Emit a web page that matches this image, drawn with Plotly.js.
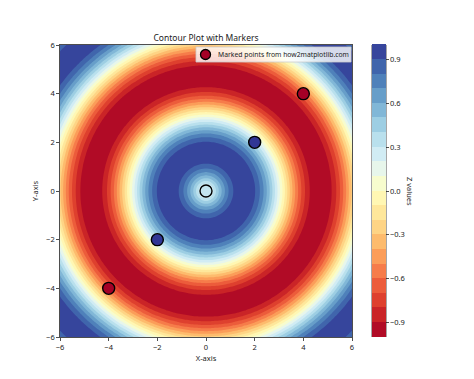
<!DOCTYPE html>
<html><head>
<script src="https://cdn.plot.ly/plotly-3.0.1.min.js"></script>
<style>body{margin:0;background:#fff}</style>
</head><body>
<div id="chart" style="width:474px;height:379px"></div>
<script>
// ---- data ----
const gridMin = -6, gridMax = 6, gridN = 100;          // x / y grid of the surface z = sin(sqrt(x^2+y^2))
const levelStart = -1, levelEnd = 1, levelStep = 0.1;  // 20 filled contour bands
const markerX = [4, 2, 0, -2, -4];
const markerY = [4, 2, 0, -2, -4];
const markerZ = [-0.59, 0.31, 0, 0.31, -0.59];
const cbTickVals = [-0.9, -0.6, -0.3, 0, 0.3, 0.6, 0.9];
const axisTickVals = [-6, -4, -2, 0, 2, 4, 6];
const legendLabel = 'Marked points from how2matplotlib.com';

// ---- RdYlBu (matplotlib) ----
const rdylbu = ['#a50026','#d73027','#f46d43','#fdae61','#fee090','#ffffbf','#e0f3f8','#abd9e9','#74add1','#4575b4','#313695'];
function hex2rgb(h){return [parseInt(h.slice(1,3),16),parseInt(h.slice(3,5),16),parseInt(h.slice(5,7),16)];}
function cmap(t){
  const idx = Math.min(255, Math.floor(t*256)) / 255;
  const p = idx*10, i = Math.min(9, Math.floor(p)), f = p - i;
  const a = hex2rgb(rdylbu[i]), b = hex2rgb(rdylbu[i+1]);
  return 'rgb(' + a.map((v,k)=>Math.round(v+(b[k]-v)*f)).join(',') + ')';
}

// grid
const gx = [], gy = [];
for (let i = 0; i < gridN; i++) { const v = gridMin + (gridMax-gridMin)*i/(gridN-1); gx.push(v); gy.push(v); }
const gz = gy.map(y => gx.map(x => Math.sin(Math.sqrt(x*x + y*y))));

// discrete colorscale: plotly evaluates band k at (k+1)/21; ends (+-1.05, only in colorbar) are white
const nBands = Math.round((levelEnd-levelStart)/levelStep);
const nc = nBands + 2;
const contourScale = [[0, '#ffffff'], [0.5/(nc-1), '#ffffff']];
for (let k = 0; k < nBands; k++) {
  const c = cmap((k + 0.5)/nBands);
  if (k === 0) contourScale.push([0.5/(nc-1), c]);
  contourScale.push([(k+1)/(nc-1), c]);
  if (k === nBands-1) contourScale.push([(nc-1.5)/(nc-1), c]);
}
contourScale.push([(nc-1.5)/(nc-1), '#ffffff'], [1, '#ffffff']);
const markerScale = rdylbu.map((c,i)=>[i/10, c]);

// geometry (pixels)
const W = 474, H = 379, L = 60, R = 122, T = 45, B = 42;
const PW = W - L - R, PH = H - T - B;
const px = v => (v - L) / PW;        // pixel x -> paper
const py = v => 1 - (v - T) / PH;    // pixel y -> paper
const cbLen = PH * (levelEnd - levelStart + levelStep) / (levelEnd - levelStart);

const font = 'Noto Sans, DejaVu Sans, sans-serif';
const traces = [
  {
    type: 'contour', x: gx, y: gy, z: gz,
    autocontour: false,
    contours: {start: levelStart, end: levelEnd, size: levelStep, coloring: 'fill', showlines: false},
    line: {width: 0},
    colorscale: contourScale,
    hoverinfo: 'skip', showlegend: false,
    colorbar: {
      x: px(372), xanchor: 'left', xref: 'paper',
      y: 0.5, yanchor: 'middle', len: cbLen, lenmode: 'pixels',
      thickness: 14, thicknessmode: 'pixels',
      outlinewidth: 0,
      tickmode: 'array', tickvals: cbTickVals, tickformat: '.1f',
      ticks: 'outside', ticklen: 3, tickwidth: 0.8, tickcolor: '#222',
      tickfont: {family: font, size: 7.5, color: '#222'},
      xpad: 0, ypad: 0
    }
  },
  {
    type: 'scatter', mode: 'markers', x: markerX, y: markerY, showlegend: false,
    marker: {size: 12, color: markerZ, colorscale: markerScale, showscale: false,
             line: {color: '#000', width: 1.4}}
  }
];

const axisCommon = {
  range: [gridMin, gridMax], tickmode: 'array', tickvals: axisTickVals,
  ticks: 'outside', ticklen: 3, tickwidth: 0.8, tickcolor: '#222',
  showline: true, linecolor: '#222', linewidth: 0.8, mirror: true,
  showgrid: false, zeroline: false,
  tickfont: {family: font, size: 7.5, color: '#222'}
};

const layout = {
  width: W, height: H,
  margin: {l: L, r: R, t: T, b: B},
  paper_bgcolor: '#fff', plot_bgcolor: '#fff',
  font: {family: font, color: '#222'},
  title: {text: 'Contour Plot with Markers', font: {family: font, size: 8.5, color: '#222'},
          x: 206/W, xanchor: 'center', y: 1 - 38/H, yanchor: 'middle'},
  xaxis: Object.assign({}, axisCommon, {title: {text: 'X-axis', font: {family: font, size: 7.5}, standoff: 4}}),
  yaxis: Object.assign({}, axisCommon, {title: {text: 'Y-axis', font: {family: font, size: 7.5}, standoff: 6}}),
  showlegend: false,
  shapes: [
    // colorbar outline
    {type: 'rect', xref: 'paper', yref: 'paper', x0: px(372), x1: px(386), y0: 0, y1: 1,
     line: {color: '#222', width: 0.8}, fillcolor: 'rgba(0,0,0,0)', layer: 'above'},
    // legend frame
    {type: 'rect', xref: 'paper', yref: 'paper', x0: px(196), x1: px(351), y0: py(62), y1: py(47),
     line: {color: '#cccccc', width: 0.8}, fillcolor: 'rgba(255,255,255,0.8)', layer: 'above'},
    // legend symbol
    {type: 'circle', xref: 'paper', yref: 'paper', xsizemode: 'pixel', ysizemode: 'pixel',
     xanchor: px(205.5), yanchor: py(54.5), x0: -5, x1: 5, y0: -5, y1: 5,
     fillcolor: rdylbu[0], line: {color: '#000', width: 1.3}, layer: 'above'}
  ],
  annotations: [
    {text: 'Z values', xref: 'paper', yref: 'paper', x: px(410), y: 0.5, xanchor: 'center', yanchor: 'middle',
     showarrow: false, textangle: 90, font: {family: font, size: 7.5, color: '#222'}},
    {text: legendLabel, xref: 'paper', yref: 'paper', x: px(216), y: py(54.5), xanchor: 'left', yanchor: 'middle',
     showarrow: false, font: {family: font, size: 6.8, color: '#222'}}
  ]
};

Plotly.newPlot('chart', traces, layout, {displayModeBar: false, staticPlot: true});
</script>
</body></html>
